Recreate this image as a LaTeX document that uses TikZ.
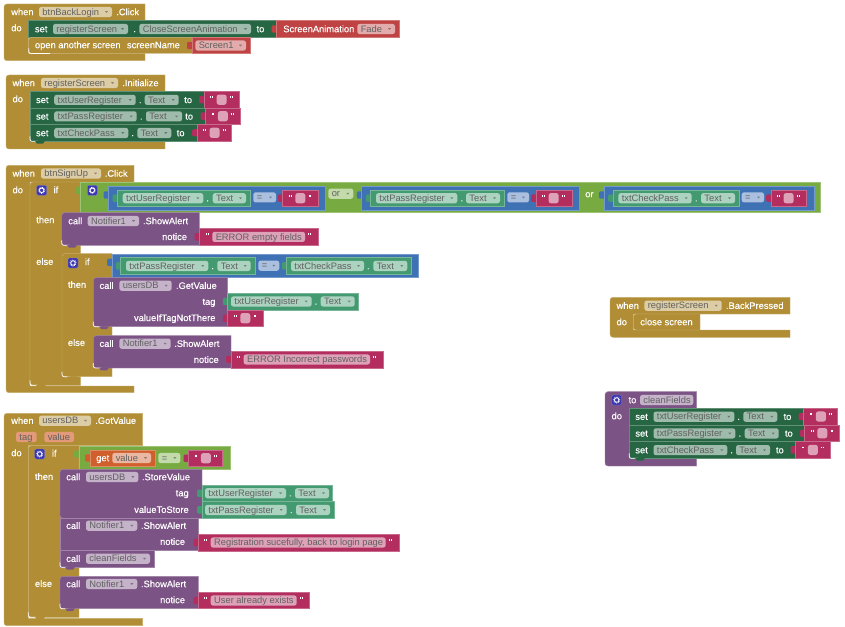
\documentclass[tikz,border=0pt]{standalone}
\usepackage{fontspec}
\setmainfont{Liberation Sans}
\newfontfamily\blockfont[FakeBold=0.35]{Liberation Sans}
\definecolor{cgold}{HTML}{B18E35}
\definecolor{cset}{HTML}{266643}
\definecolor{cget}{HTML}{439970}
\definecolor{clog}{HTML}{77AB41}
\definecolor{cmath}{HTML}{3F71B5}
\definecolor{cstr}{HTML}{B32D5E}
\definecolor{cproc}{HTML}{7C5385}
\definecolor{cvar}{HTML}{D05F2D}
\definecolor{cscr}{HTML}{BF4343}
\definecolor{cgear}{HTML}{3B37B0}
\definecolor{cparam}{HTML}{E29A7A}
\newcount\nodenum
\tikzset{
  blockedge/.style={line width=.35pt},
  lbl/.style={inner sep=0pt,text=white,font=\blockfont\fontsize{7}{8}\selectfont},
  fldtxt/.style={inner sep=0pt,text=black!62,font=\fontsize{7}{8}\selectfont},
  fldbox/.style={fill=white,fill opacity=.56,rounded corners=1.8pt},
  ddarrow/.style={fill=black,fill opacity=.35},
  highlight/.style={white,line width=.5pt,rounded corners=1.5pt}
}
\newcommand{\Tx}[3]{\global\advance\nodenum by 1
  \node[lbl,anchor=base west] (n\the\nodenum) at ({#1},{#2+3.2}) {#3};}
\newcommand{\Tr}[3]{\global\advance\nodenum by 1
  \node[lbl,anchor=base east] (n\the\nodenum) at ({#1},{#2+3.2}) {#3};}
\newcommand{\Fn}[4]{\fill[fldbox] ({#1},{#3-5.1}) rectangle ({#2},{#3+5.1});
  \global\advance\nodenum by 1
  \node[fldtxt,anchor=base west] (n\the\nodenum) at ({#1+3.2},{#3+3.2}) {#4};}
\newcommand{\Fo}[4]{\fill[cparam,rounded corners=1.8pt] ({#1},{#3-5.1}) rectangle ({#2},{#3+5.1});
  \global\advance\nodenum by 1
  \node[fldtxt,anchor=base west] (n\the\nodenum) at ({#1+3.2},{#3+3.2}) {#4};}
\newcommand{\Fd}[4]{\Fn{#1}{#2}{#3}{#4}
  \fill[ddarrow] ({#2-7},{#3-.8}) -- ({#2-4},{#3-.8}) -- ({#2-5.5},{#3+1}) -- cycle;}
\newcommand{\Tab}[3]{\fill[#3,rounded corners=.9pt] ({#1-4.8},{#2-3.7}) rectangle ({#1+.6},{#2+3.7});}
\newcommand{\Bk}[5]{\filldraw[fill=#1,draw=#1!72!white,blockedge] ({#2},{#3}) rectangle ({#4},{#5});}
\newcommand{\Lr}[5]{\filldraw[fill=#1,draw=#1!72!white,blockedge,rounded corners=2.2pt]
  ({#4},{#3}) [rounded corners=2.2pt] -- ({#2},{#3}) -- ({#2},{#5}) [sharp corners] -- ({#4},{#5}) -- cycle;}
\newcommand{\Cb}[8]{\filldraw[fill=#1,draw=#1!72!white,blockedge]
  [rounded corners=2.2pt] ({#5},{#3}) -- ({#2},{#3}) -- ({#2},{#8}) [sharp corners] -- ({#5},{#8}) -- ({#5},{#7}) -- ({#4},{#7}) -- ({#4},{#6}) -- ({#5},{#6}) -- cycle;}
\newcommand{\Nt}[3]{\fill[#3] ({#1+5},{#2-.3}) -- ({#1+7},{#2+2.4}) -- ({#1+13},{#2+2.4}) -- ({#1+15},{#2-.3}) -- cycle;}
\newcommand{\Hl}[3]{\draw[highlight] ({#1},{#2-5}) -- ({#1},{#2}) -- ({#3},{#2});}
\newcommand{\Gr}[2]{\filldraw[fill=cgear,draw=cgear!65!white,line width=.3pt,rounded corners=1pt] ({#1},{#2}) rectangle ({#1+10},{#2+10});
  \draw[white,line width=.6pt] ({#1+5},{#2+5}) circle[radius=1.7pt];
  \draw[white,line width=.5pt,dash pattern=on .6pt off .7pt] ({#1+5},{#2+5}) circle[radius=2.35pt];}
\newcommand{\Qm}[2]{\draw[white,line width=.55pt] ({#1-.9},{#2-3.4}) -- ({#1-.9},{#2-1.6}) ({#1+.9},{#2-3.4}) -- ({#1+.9},{#2-1.6});}
\newcommand{\St}[7]{\Tab{#1}{#3+8.2}{cstr}\Bk{cstr}{#1}{#3}{#2}{#4}
  \Qm{#5-5}{#3+8.2}\Qm{#6+4.6}{#3+8.2}\Fn{#5}{#6}{#3+8.2}{#7}}
\newcommand{\Se}[4]{\St{#1}{#2}{#3}{#4}{#1+12.6}{#1+22.6}{}}
\newcommand{\Gt}[9]{\Tab{#1}{#3+8.2}{cget}\Bk{cget}{#1}{#3}{#2}{#3+16.6}
  \Fd{#5}{#6}{#3+8.2}{#4}\Tx{#7}{#3+8.2}{.}\Fd{#8}{#9}{#3+8.2}{Text}}
\newcommand{\Sr}[9]{\Bk{cset}{#1}{#3}{#2}{#3+16.6}
  \Tx{#1+5.8}{#3+8.4}{set}\Fd{#1+24.2}{#5}{#3+8.4}{#4}\Tx{#6}{#3+8.4}{.}\Fd{#7}{#8}{#3+8.4}{Text}\Tx{#9}{#3+8.4}{to}}
\begin{document}
\begin{tikzpicture}[x=.75pt,y=-.75pt]
\useasboundingbox (0,0) rectangle (845,627);
\fill[white] (0,0) rectangle (845,627);

%% block 1
\Cb{cgold}{4}{4}{28.7}{145}{20.7}{53.5}{60.7}
\Tx{11}{12}{when}\Fd{39}{112}{12}{btnBackLogin}\Tx{116}{12}{.Click}\Tx{11}{28}{do}
\Bk{cset}{28.7}{20.7}{276}{37.3}
\Tx{34.7}{29}{set}\Fd{53}{128}{29}{registerScreen}\Tx{133}{29}{.}\Fd{139.3}{251}{29}{CloseScreenAnimation}\Tx{256.3}{29}{to}
\Tab{276.5}{29}{cscr}\Bk{cscr}{276.5}{20.7}{399}{37.3}
\Tx{283}{29}{ScreenAnimation}\Fd{357.3}{395}{29}{Fade}
\Lr{cgold}{28.7}{37.3}{192}{53.5}
\Tx{34.7}{45}{open another screen}\Tx{126.7}{45}{screenName}
\Tab{192}{45.5}{cscr}\Bk{cscr}{192}{37.4}{250}{53.7}
\Fd{195.3}{246}{45.5}{Screen1}
\Hl{28.7}{53.5}{50}

%% block 2
\Cb{cgold}{6}{75}{30}{165}{91.5}{141.3}{149}
\Tx{12.3}{83}{when}\Fd{41}{118}{83}{registerScreen}\Tx{122}{83}{.Initialize}\Tx{12.3}{99}{do}
\Sr{30}{204}{91.5}{txtUserRegister}{135.7}{138.7}{144.7}{178.7}{184}
\Se{204}{239}{91.5}{108}
\Sr{30}{205.3}{108}{txtPassRegister}{136.7}{139.7}{146}{182}{185}
\Se{205.3}{240}{108}{124.6}
\Sr{30}{197}{124.6}{txtCheckPass}{128.3}{131}{137.3}{171.3}{176.5}
\Se{197}{231}{124.6}{141.2}
\Hl{30}{141.3}{38}\Nt{30}{141.2}{cset}

%% block 3
\Cb{cgold}{6}{165.3}{30}{134}{182}{386}{392.7}
\Tx{12.3}{173.5}{when}\Fd{41}{101}{173.5}{btnSignUp}\Tx{104.5}{173.5}{.Click}\Tx{12.3}{190}{do}
\Lr{cgold}{30}{182}{80.5}{385.3}
\Gr{36.7}{185.3}\Tx{53.3}{190}{if}
\Tab{80.5}{190.5}{clog}\Bk{clog}{80.5}{182.2}{820.7}{212.7}
\Gr{87.3}{185.3}
\Tab{108.3}{195}{cmath}\Bk{cmath}{108.3}{186.7}{325}{210}
\Gt{117.3}{250.7}{190}{txtUserRegister}{122.7}{203.3}{206}{212.7}{246}
\Fd{253.3}{276}{197.4}{=}
\Se{282.7}{318.3}{190}{206.7}
\Fd{328.3}{353.3}{193.7}{or}
\Tab{361.7}{195}{cmath}\Bk{cmath}{361.7}{186.7}{579.3}{210}
\Gt{370.7}{504.3}{190}{txtPassRegister}{376}{457.3}{460.3}{466}{500}
\Fd{507.3}{529}{197.4}{=}
\Se{536}{572}{190}{206.7}
\Tx{585}{194}{or}
\Tab{604}{195}{cmath}\Bk{cmath}{604}{186.7}{814}{210}
\Gt{613}{739.3}{190}{txtCheckPass}{618.3}{691.7}{694.7}{701}{735}
\Fd{741.7}{764}{197.4}{=}
\Se{771}{806.7}{190}{206.7}
\Tx{36}{220}{then}
\Lr{cproc}{61.7}{212.7}{199.3}{245.3}
\Tx{68}{221}{call}\Fd{87.7}{139}{221}{Notifier1}\Tx{142.7}{221}{.ShowAlert}
\Tr{187.3}{236.8}{notice}
\St{199.3}{318}{228.7}{245.3}{212.3}{305}{ERROR empty fields}
\Hl{61.7}{245.3}{70}\Nt{62}{245.2}{cproc}
\Tx{36}{261.7}{else}
\Lr{cgold}{62}{253.7}{112}{376.7}
\Gr{68}{258}\Tx{84.7}{262}{if}
\Tab{112}{262.3}{cmath}\Bk{cmath}{112}{254.3}{418.3}{277.3}
\Gt{120.7}{255.7}{257.7}{txtPassRegister}{126}{208.3}{211}{217.3}{250.7}
\Fd{258.3}{279.3}{265.7}{=}
\Gt{286.7}{411}{257.7}{txtCheckPass}{291}{364}{366.7}{373.3}{407.3}
\Tx{67.7}{284.7}{then}
\Lr{cproc}{93.3}{277.7}{227.7}{326.7}
\Tx{99.3}{285.7}{call}\Fd{119.3}{171.7}{285.7}{usersDB}\Tx{175.7}{285.7}{.GetValue}
\Tr{215.7}{301.7}{tag}
\Gt{227.7}{358.7}{293.3}{txtUserRegister}{231}{311.7}{314.3}{320.7}{354.7}
\Tr{215.7}{317.9}{valueIfTagNotThere}
\Se{227.7}{263}{310}{326.7}
\Hl{93.3}{326.7}{101}\Nt{94}{326.6}{cproc}
\Tx{67.7}{342.7}{else}
\Lr{cproc}{93.3}{335.7}{231}{368}
\Tx{99.3}{343.7}{call}\Fd{119.3}{170.7}{343.7}{Notifier1}\Tx{174}{343.7}{.ShowAlert}
\Tr{219}{359.7}{notice}
\St{231}{383}{351.3}{368}{243.7}{370}{ERROR Incorrect passwords}
\Hl{93.3}{368}{101}\Nt{94}{367.9}{cproc}
\Hl{62}{376.7}{70}\Nt{62}{376.6}{cgold}
\Hl{30}{385.3}{38}\Nt{31}{385.2}{cgold}

%% BackPressed
\Cb{cgold}{610}{297.3}{633.3}{790}{314}{330}{337.3}
\Tx{616.3}{305.7}{when}\Fd{644.3}{721.7}{305.7}{registerScreen}\Tx{725.7}{305.7}{.BackPressed}\Tx{616.3}{322}{do}
\Lr{cgold}{633.3}{314}{700}{330}
\Tx{640}{322}{close screen}

%% cleanFields
\Cb{cproc}{605}{391.7}{629.3}{696.7}{408.3}{458.3}{466}
\Gr{611.7}{395}\Tx{628.3}{400}{to}\Fn{640}{693.3}{400}{cleanFields}\Tx{611.3}{416}{do}
\Sr{629.3}{803.3}{408.3}{txtUserRegister}{734.3}{737}{743.3}{777.3}{783.3}
\Se{803.3}{837.7}{408.3}{425}
\Sr{629.3}{804.7}{425}{txtPassRegister}{735.3}{738.3}{744.7}{778.7}{784.7}
\Se{804.7}{839}{425}{441.7}
\Sr{629.3}{795.3}{441.7}{txtCheckPass}{727.3}{730}{736}{770}{775.7}
\Se{795.3}{830.7}{441.7}{458.3}
\Hl{629.3}{458.3}{638}\Nt{630}{458.2}{cset}

%% GotValue
\Cb{cgold}{4}{413.3}{28.3}{142.7}{445.7}{618.3}{625.7}
\Tx{11}{420.7}{when}\Fd{39}{91}{420.7}{usersDB}\Tx{95}{420.7}{.GotValue}
\Fo{16}{36.7}{437}{tag}\Fo{44.3}{74}{437}{value}\Tx{11}{453}{do}
\Lr{cgold}{28.3}{445.7}{79}{617.3}
\Gr{34.7}{449}\Tx{51.7}{453.3}{if}
\Tab{79}{454}{clog}\Bk{clog}{79}{445.9}{230}{469.3}
\Tab{90}{458}{cvar}\Bk{cvar}{90}{450}{155.7}{466}
\Tx{96}{458}{get}\Fd{112.3}{151}{458}{value}
\Fd{158.3}{180.3}{458}{=}
\Se{188.3}{222.7}{450}{466.5}
\Tx{34.7}{476.7}{then}
\Lr{cproc}{60}{469.3}{202}{518.3}
\Tx{66}{477}{call}\Fd{86}{138.3}{477}{usersDB}\Tx{141.7}{477}{.StoreValue}
\Tr{189}{493}{tag}
\Gt{202}{332.7}{485}{txtUserRegister}{205}{286}{288.7}{295}{329}
\Tr{189}{509.7}{valueToStore}
\Gt{202}{334}{501.7}{txtPassRegister}{205}{286.7}{289.7}{296}{330}
\Bk{cproc}{60}{518.3}{198.3}{550.7}
\Tx{66}{525.7}{call}\Fd{86}{137.3}{525.7}{Notifier1}\Tx{140.7}{525.7}{.ShowAlert}
\Tr{185.3}{541.7}{notice}
\St{198.3}{399}{534.3}{551}{210.7}{385.7}{Registration sucefully, back to login page}
\Bk{cproc}{60}{550.7}{154}{567.3}
\Tx{66}{558.7}{call}\Fd{86}{150}{558.7}{cleanFields}
\Hl{60}{567.3}{68}\Nt{60}{567.2}{cproc}
\Tx{34.7}{583.7}{else}
\Lr{cproc}{60}{576.3}{198.3}{608.7}
\Tx{66}{584}{call}\Fd{86}{137.3}{584}{Notifier1}\Tx{140.7}{584}{.ShowAlert}
\Tr{185.3}{600}{notice}
\St{198.3}{309.7}{592.3}{608.7}{210.7}{296.7}{User already exists}
\Hl{60}{608.7}{68}\Nt{60}{608.6}{cproc}
\Hl{28.3}{617.3}{36}\Nt{30}{617.2}{cgold}
\end{tikzpicture}
\end{document}
